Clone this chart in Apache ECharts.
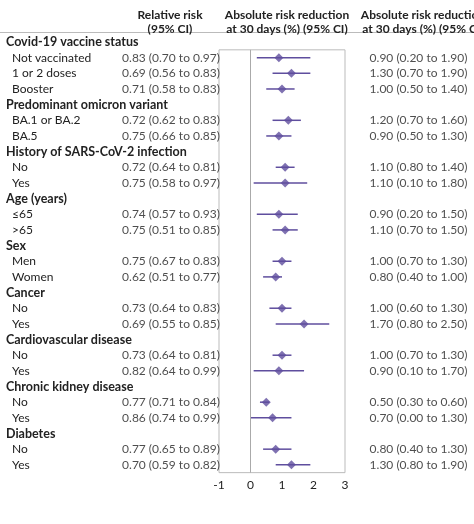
<!DOCTYPE html>
<html><head><meta charset="utf-8">
<script src="https://cdn.jsdelivr.net/npm/echarts@6/dist/echarts.min.js"></script>
<style>html,body{margin:0;padding:0;background:#fff}#c{width:474px;height:524px}</style>
</head><body><div id="c"></div>
<script>
const labels=["Covid-19 vaccine status","Not vaccinated","1 or 2 doses","Booster","Predominant omicron variant","BA.1 or BA.2","BA.5","History of SARS-CoV-2 infection","No","Yes","Age (years)","≤65",">65","Sex","Men","Women","Cancer","No","Yes","Cardiovascular disease","No","Yes","Chronic kidney disease","No","Yes","Diabetes","No","Yes"];
const isHeader=[1,0,0,0,1,0,0,1,0,0,1,0,0,1,0,0,1,0,0,1,0,0,1,0,0,1,0,0];
const rr  =[null,0.83,0.69,0.71,null,0.72,0.75,null,0.72,0.75,null,0.74,0.75,null,0.75,0.62,null,0.73,0.69,null,0.73,0.82,null,0.77,0.86,null,0.77,0.70];
const rrLo=[null,0.70,0.56,0.58,null,0.62,0.66,null,0.64,0.58,null,0.57,0.51,null,0.67,0.51,null,0.64,0.55,null,0.64,0.64,null,0.71,0.74,null,0.65,0.59];
const rrHi=[null,0.97,0.83,0.83,null,0.83,0.85,null,0.81,0.97,null,0.93,0.85,null,0.83,0.77,null,0.83,0.85,null,0.81,0.99,null,0.84,0.99,null,0.89,0.82];
const arr  =[null,0.90,1.30,1.00,null,1.20,0.90,null,1.10,1.10,null,0.90,1.10,null,1.00,0.80,null,1.00,1.70,null,1.00,0.90,null,0.50,0.70,null,0.80,1.30];
const arrLo=[null,0.20,0.70,0.50,null,0.70,0.50,null,0.80,0.10,null,0.20,0.70,null,0.70,0.40,null,0.60,0.80,null,0.70,0.10,null,0.30,0.00,null,0.40,0.80];
const arrHi=[null,1.90,1.90,1.40,null,1.60,1.30,null,1.40,1.80,null,1.50,1.50,null,1.30,1.00,null,1.30,2.50,null,1.30,1.70,null,0.60,1.30,null,1.30,1.90];
const xTicks=[-1,0,1,2,3];

const n=labels.length, step=15.66, top0=42-step/2;
const f2=v=>v.toFixed(2);
const cats=labels.map((l,i)=>'r'+i);
const font='Lato, sans-serif', col='#222', purple='#5f4e9e';
const rrData=[],arrTxt=[],ci=[],pts=[];
for(let i=0;i<n;i++){
  if(isHeader[i])continue;
  rrData.push({value:[0.545,cats[i]],txt:`${f2(rr[i])} (${f2(rrLo[i])} to ${f2(rrHi[i])})`});
  arrTxt.push({value:[0.57,cats[i]],txt:`${f2(arr[i])} (${f2(arrLo[i])} to ${f2(arrHi[i])})`});
  ci.push([arrLo[i],arrHi[i],cats[i]]);
  pts.push([arr[i],cats[i]]);
}
const txtSeries=(data,gi,pos)=>({type:'scatter',xAxisIndex:gi,yAxisIndex:gi,symbolSize:0,data,silent:true,
  label:{show:true,position:pos,distance:0,formatter:p=>p.data.txt,fontFamily:font,fontSize:12,color:col}});
const hdr={fontFamily:font,fontSize:12,fontWeight:'bold',color:col,lineHeight:14};
const chart=echarts.init(document.getElementById('c'));
chart.setOption({
  animation:false,
  title:[
    {text:'Relative risk\n(95% CI)',left:165,top:3,textAlign:'center',textStyle:hdr},
    {text:'Absolute risk reduction\nat 30 days (%) (95% CI)',left:282,top:3,textAlign:'center',textStyle:hdr},
    {text:'Absolute risk reduction\nat 30 days (%) (95% CI)',left:418,top:3,textAlign:'center',textStyle:hdr}
  ],
  graphic:[{type:'line',shape:{x1:0,y1:32.5,x2:474,y2:32.5},style:{stroke:'#bbb',lineWidth:1}}],
  grid:[
    {left:6,width:213,top:top0,height:n*step},
    {left:219,width:126,top:top0+step,height:(n-1)*step,show:true,borderColor:'#bbb',borderWidth:1},
    {left:345,width:129,top:top0,height:n*step}
  ],
  xAxis:[
    {gridIndex:0,type:'value',min:0,max:1,show:false},
    {gridIndex:1,type:'value',min:-1,max:3,interval:1,axisLine:{show:false},axisTick:{show:false},splitLine:{show:false},
     axisLabel:{fontFamily:font,fontSize:12,color:col,margin:6,formatter:v=>xTicks.includes(v)?String(v):''}},
    {gridIndex:2,type:'value',min:0,max:1,show:false}
  ],
  yAxis:[
    {gridIndex:0,type:'category',data:cats,inverse:true,axisLine:{show:false},axisTick:{show:false},
     axisLabel:{inside:true,margin:0,formatter:(v,i)=>isHeader[i]?`{h|${labels[i]}}`:`{s|${labels[i]}}`,
       rich:{h:{fontFamily:font,fontSize:12.5,fontWeight:'bold',color:col},s:{fontFamily:font,fontSize:12,color:col,padding:[0,0,0,6]}}}},
    {gridIndex:1,type:'category',data:cats.slice(1),inverse:true,show:false},
    {gridIndex:2,type:'category',data:cats,inverse:true,show:false}
  ],
  series:[
    txtSeries(rrData,0,'right'),
    txtSeries(arrTxt,2,'inside'),
    {type:'custom',xAxisIndex:1,yAxisIndex:1,data:ci,silent:true,
     renderItem:(p,api)=>{const a=api.coord([api.value(0),api.value(2)]),b=api.coord([api.value(1),api.value(2)]);
       return {type:'line',shape:{x1:a[0],y1:a[1],x2:b[0],y2:b[1]},style:{stroke:purple,lineWidth:1.5}};},
     markLine:{silent:true,symbol:'none',label:{show:false},lineStyle:{color:'#aaa',type:'solid',width:1},data:[{xAxis:0}]}},
    {type:'scatter',xAxisIndex:1,yAxisIndex:1,data:pts,symbol:'diamond',symbolSize:9,itemStyle:{color:purple},silent:true,z:5}
  ]
});
</script></body></html>
